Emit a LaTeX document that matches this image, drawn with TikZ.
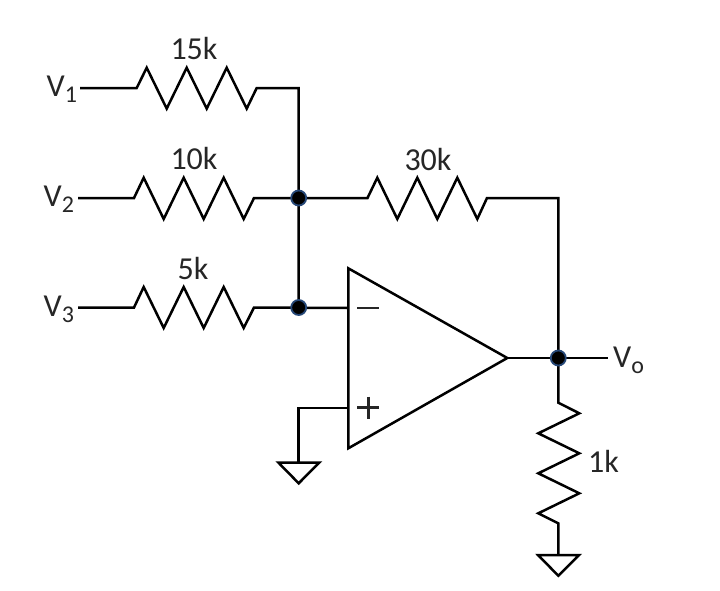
\documentclass[tikz,border=0pt]{standalone}
\usepackage{fontspec}
\setmainfont{Carlito}
\newcommand{\subtxt}[1]{\raisebox{-6pt}{\fontsize{24}{24}\selectfont #1}}
\definecolor{dotedge}{RGB}{38,72,120}
\tikzset{
  wire/.style={line width=2.5pt,line join=miter,line cap=butt,black},
  junction/.style={circle,fill=black,draw=dotedge,line width=1.8pt,minimum size=15pt,inner sep=0pt},
  lbl/.style={font=\fontsize{32}{32}\selectfont,inner sep=0pt,text=black!85,anchor=base},
  vlbl/.style={font=\fontsize{32}{32}\selectfont,inner sep=0pt,text=black!85,anchor=base west},
  sign/.style={line width=2.5pt,black!85}
}
\begin{document}
\begin{tikzpicture}[x=1pt,y=-1pt]
\useasboundingbox (0,0) rectangle (720,590);
% junctions and terminals
\coordinate (s1) at (80,88);
\coordinate (s2) at (78,198);
\coordinate (s3) at (78,307.5);
\coordinate (c1) at (298.7,88);
\coordinate (tr) at (558.3,198);
\coordinate (vo) at (608,358);
\coordinate (ip) at (348.3,308);
\coordinate (in) at (348.3,408);
\coordinate (gb) at (298.7,408);
\coordinate (oa) at (507.3,358);
\coordinate (g1) at (298.7,462.5);
\coordinate (g2) at (558.3,555);
% op-amp
\draw[wire] (348.3,268.3) -- (348.3,448.3) -- (oa) -- cycle;
\draw[sign] (357.3,308) -- (379.3,308);
\draw[sign] (357.3,407.7) -- (379.3,407.7) (368.3,396.7) -- (368.3,418.7);
% wires
\draw[wire] (s1) -- (136.7,88) -- (146.7,67.7) -- (166.7,108.6) -- (186.7,67.7) -- (206.7,108.6) -- (226.7,67.7) -- (246.7,108.6) -- (256.7,88) -- (c1) -- (298.7,307.5);
\draw[wire] (s2) -- (134,198) -- (143.7,177.7) -- (163.7,219) -- (183.7,177.7) -- (203.7,219) -- (223.7,177.7) -- (243.7,219) -- (254,198) -- (298.7,198) -- (367.5,198) -- (377.3,177.7) -- (397.3,219) -- (417.3,177.7) -- (437.3,219) -- (457.3,177.7) -- (477.3,219) -- (487,198) -- (tr) -- (558.3,358);
\draw[wire] (s3) -- (134,307.5) -- (143.7,287) -- (163.7,328) -- (183.7,287) -- (203.7,328) -- (223.7,287) -- (243.7,328) -- (254,307.5) -- (ip);
\draw[wire] (oa) -- (vo);
\draw[wire] (in) -- (gb) -- (g1);
\draw[wire] (558.3,358) -- (558.3,402.7) -- (579.3,413.3) -- (538.3,433.3) -- (579.3,453.3) -- (538.3,473.3) -- (579.3,493.3) -- (538.3,513.3) -- (558.3,523.3) -- (g2);
% grounds
\draw[wire] (278.3,462.5) -- (319.3,462.5) -- (298.7,483.3) -- cycle;
\draw[wire] (538,555) -- (579,555) -- (558.3,575.7) -- cycle;
% dots
\node[junction] (j1) at (298.7,198) {};
\node[junction] (j2) at (298.7,307.5) {};
\node[junction] (j3) at (558.3,358) {};
% labels
\node[lbl] (t15) at (194,59) {15k};
\node[lbl] (t10) at (194,169) {10k};
\node[lbl] (t5) at (193,279) {5k};
\node[lbl] (t30) at (428,170) {30k};
\node[vlbl] (t1) at (588,472) {1k};
\node[vlbl] (v1) at (46.5,96) {V\subtxt{1}};
\node[vlbl] (v2) at (43.5,206) {V\subtxt{2}};
\node[vlbl] (v3) at (43.5,316) {V\subtxt{3}};
\node[vlbl] (vout) at (613,367) {V\subtxt{o}};
\end{tikzpicture}
\end{document}
